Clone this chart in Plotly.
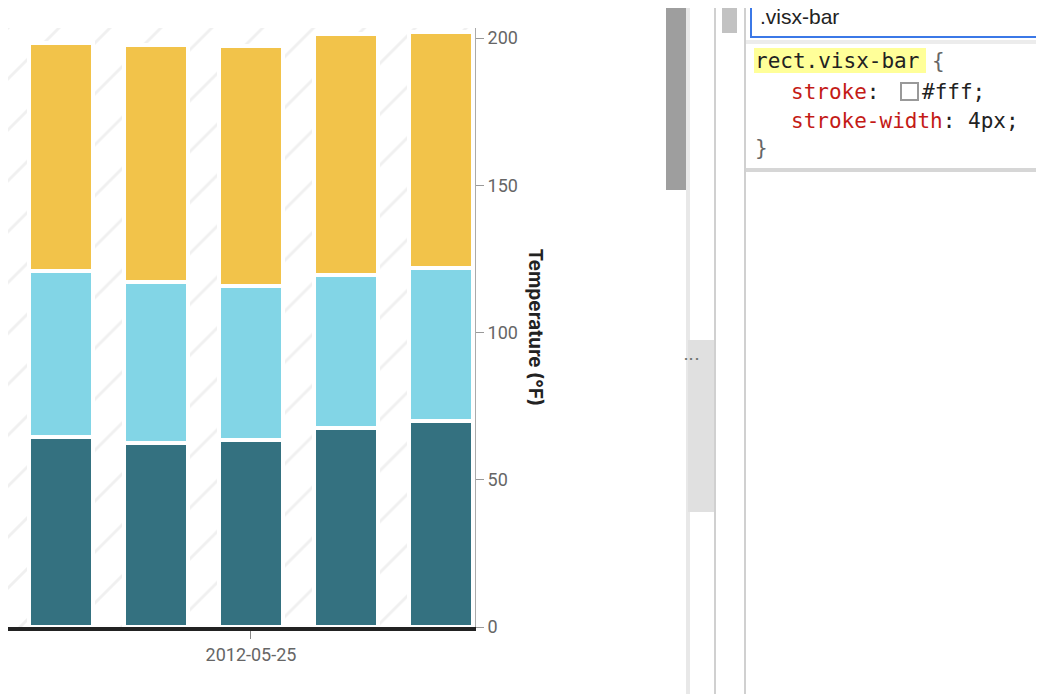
import plotly.graph_objects as go

# data
dates = ["2012-05-23", "2012-05-24", "2012-05-25", "2012-05-26", "2012-05-27"]
low = [64.5, 62.5, 63.5, 67.6, 70.0]
mid = [56.4, 54.6, 52.3, 51.9, 51.9]
high = [77.4, 80.5, 81.5, 81.9, 80.1]
y_ticks = [0, 50, 100, 150, 200]

OFF = 8  # page margin of the browser
W, H = 1044 - OFF, 694 - OFF
L, R, T, B = 8, 475, 28, 627  # plot area in reference pixels


def px(x):
    return (x - L) / (R - L)


def py(y):
    return (B - y) / (B - T)


xs = list(range(len(dates)))
fig = go.Figure()

# hatched background (underneath, on axis x)
fig.add_trace(go.Bar(
    x=[0.5], y=[203.4], width=[1], showlegend=False, hoverinfo="skip",
    marker=dict(color="white", line=dict(width=0),
                pattern=dict(shape="/", fgcolor="#e2e2e2", bgcolor="white", size=36, solidity=0.08)),
))

for vals, col in [(low, "#347180"), (mid, "#82d5e6"), (high, "#f2c34a")]:
    fig.add_trace(go.Bar(
        x=xs, y=vals, width=0.68, showlegend=False, xaxis="x2",
        marker=dict(color=col, line=dict(color="white", width=4)),
    ))

x_lo = -0.642 + (L / 95.0)
fig.update_layout(
    barmode="stack",
    width=W, height=H,
    autosize=False,
    margin=dict(l=0, r=W - (R - OFF), t=T - OFF, b=H - (B - OFF)),
    plot_bgcolor="white",
    paper_bgcolor="white",
    font=dict(family="Roboto", color="#666"),
    xaxis=dict(range=[0, 1], visible=False),
    xaxis2=dict(range=[x_lo, 4.358], overlaying="x", side="bottom", anchor="y",
                tickvals=[2], ticktext=["2012-05-25"],
                ticks="outside", ticklen=8, tickcolor="#888", showgrid=False,
                showline=True, linecolor="#222", linewidth=4, zeroline=False,
                tickfont=dict(size=18, color="#666")),
    yaxis=dict(range=[0, 203.4], side="right", tickvals=y_ticks,
               ticks="outside", ticklen=8, tickcolor="#999", showgrid=False,
               showline=True, linecolor="#aaa", linewidth=1, zeroline=False,
               tickfont=dict(size=18, color="#666")),
)

fig.add_annotation(text="<b>Temperature (°F)</b>", textangle=90, x=px(549), y=py(327),
                   xref="paper", yref="paper", showarrow=False, yanchor="middle",
                   font=dict(size=19, color="#222", family="Inter"))

# devtools panel on the right
shapes = [
    (666, 0, 686, 190, "#9e9e9e", None),
    (686, 0, 690, 694, "#e8e8e8", None),
    (688, 340, 715, 512, "#e0e0e0", None),
    (714, 0, 716, 694, "#d0d0d0", None),
    (722, 0, 737, 33, "#c2c2c2", None),
    (744, 0, 746, 694, "#d0d0d0", None),
    (746, 40, 1044, 44, "#ececec", None),
    (746, 168, 1044, 172, "#d6d6d6", None),
    (754, 48, 926, 73, "#ffff99", None),
    (751, 0, 1050, 37, "white", "#3b78e7"),
    (901, 83, 918, 100, "white", "#999"),
]
for x0, y0, x1, y1, fc, lc in shapes:
    fig.add_shape(type="rect", xref="paper", yref="paper",
                  x0=px(x0), x1=px(x1), y0=py(y1), y1=py(y0),
                  fillcolor=fc, line=dict(color=lc or fc, width=2 if lc else 0), layer="above")

fig.add_annotation(text="⋮", x=px(703), y=py(358), xref="paper", yref="paper", showarrow=False,
                   textangle=90, yanchor="middle", font=dict(size=16, color="#555"))
fig.add_annotation(text=".visx-bar", x=px(758), y=py(16), xref="paper", yref="paper",
                   xanchor="left", yanchor="middle", showarrow=False,
                   font=dict(size=21, color="#222", family="Liberation Sans"))
mono = dict(size=21, color="#222", family="DejaVu Sans Mono")
code = [
    (753, 61, "rect.visx-bar <span style='color:#666'>{</span>"),
    (789, 92, "<span style='color:#c41a16'>stroke</span>:"),
    (920, 92, "#fff;"),
    (789, 121, "<span style='color:#c41a16'>stroke-width</span>: 4px;"),
    (753, 148, "<span style='color:#666'>}</span>"),
]
for x, y, t in code:
    fig.add_annotation(text=t, x=px(x), y=py(y), xref="paper", yref="paper",
                       xanchor="left", yanchor="middle", showarrow=False, font=mono)

fig.write_html("out.html")
